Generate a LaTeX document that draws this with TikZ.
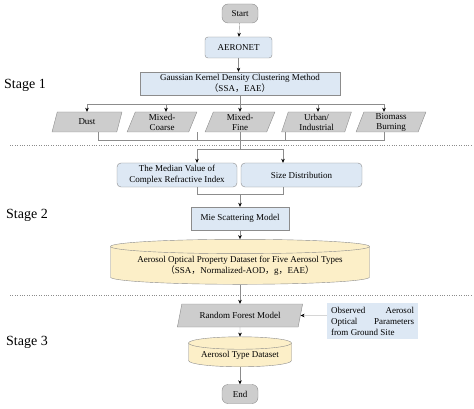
\documentclass[tikz,border=0pt]{standalone}
\usepackage{fontspec}
\setmainfont{Liberation Serif}
\newfontfamily\cjk{Noto Sans CJK SC}
\usetikzlibrary{shapes.geometric,arrows.meta}
\definecolor{boxblue}{HTML}{DDE8F4}
\definecolor{boxgray}{HTML}{CDCDCD}
\definecolor{boxyellow}{HTML}{FCEFC8}
\definecolor{linegray}{HTML}{8C8C8C}
\hyphenpenalty=10000
\exhyphenpenalty=10000

\begin{document}
\begin{tikzpicture}[x=1pt,y=-1pt,font=\fontsize{9}{11}\selectfont]

	\tikzstyle{terminal} = [draw=linegray,fill=boxgray,rounded corners=6pt,minimum width=36pt,minimum height=19pt,inner sep=1pt]
	\tikzstyle{process} = [draw=linegray,fill=boxblue,minimum height=23pt,inner sep=2pt,align=center]
	\tikzstyle{datatype} = [trapezium,trapezium left angle=76,trapezium right angle=104,trapezium stretches=true,draw=linegray,fill=boxgray,minimum width=70pt,minimum height=20pt,inner sep=0pt,align=center,font=\fontsize{9}{10}\selectfont]
	\tikzstyle{dataset} = [cylinder,shape border rotate=90,draw=linegray,fill=boxyellow,inner sep=0pt,align=center]
	\tikzstyle{flow} = [draw=linegray,-{Stealth[length=4pt,width=3.5pt,black]}]
	\tikzstyle{link} = [draw=linegray]
	\tikzstyle{stage} = [font=\fontsize{14}{16}\selectfont]
	\tikzstyle{divider} = [linegray,dotted]

	\useasboundingbox (0,0) rectangle (474,409);

	\node [stage] (stage1) at (25,85) {Stage 1};
	\node [stage] (stage2) at (27,215) {Stage 2};
	\node [stage] (stage3) at (27,342) {Stage 3};

	\draw[divider] (10,145) -- (472,145);
	\draw[divider] (10,295) -- (472,295);

	\node [terminal] (start) at (240,13.5) {Start};
	\node [process,rounded corners=3pt,minimum width=67pt,minimum height=21pt] (aeronet) at (238.5,47.5) {AERONET};
	\node [process,minimum width=200pt] (gauss) at (240,83.5) {Gaussian Kernel Density Clustering Method\\{\cjk （}SSA{\cjk ，}EAE{\cjk ）}};

	\draw[flow] (start) -- (aeronet);
	\draw[flow] (aeronet) -- (gauss.north -| aeronet);

	\coordinate (split) at (240,104);
	\coordinate (merge) at (240,140);
	\draw[link] (gauss) -- (split);

	\foreach \n/\x/\a/\b/\t in {dust/87/0/11/Dust, coarse/162/4/35/Mixed-\\Coarse, fine/240/0/0/Mixed-\\Fine, urban/316.5/1.5/-31.5/{Urban/\\Industrial}, biomass/391/-7/-7/Biomass\\Burning} {
		\node [datatype] (\n) at (\x,122) {\t};
		\draw[flow] (split) -| ([xshift=\a pt]\n.north);
		\draw[link] ([xshift=\b pt]\n.south) |- (merge);
	}

	\node [process,rounded corners=4pt,minimum width=120pt,minimum height=24pt] (median) at (177,175) {The Median Value of\\Complex Refractive Index};
	\node [process,rounded corners=4pt,minimum width=121pt,minimum height=24pt] (size) at (301.5,175) {Size Distribution};

	\coordinate (split2) at (240,149);
	\coordinate (merge2) at (240,194);
	\draw[link] (merge) -- (split2);
	\draw[flow] (split2) -| ([xshift=20pt]median.north);
	\draw[flow] (split2) -| ([xshift=-18.5pt]size.north);
	\draw[link] ([xshift=20pt]median.south) |- (merge2);
	\draw[link] ([xshift=-18.5pt]size.south) |- (merge2);

	\node [process,minimum width=98pt] (mie) at (240,218.5) {Mie Scattering Model};
	\draw[flow] (merge2) -- (mie);

	\node [dataset,aspect=0.07,minimum width=259pt,minimum height=45pt] (optics) at (240,265.5) {Aerosol Optical Property Dataset for Five Aerosol Types\\{\cjk （}SSA{\cjk ，}Normalized-AOD{\cjk ，}g{\cjk ，}EAE{\cjk ）}};
	\draw[flow] (mie) -- (optics);

	\node [datatype,trapezium left angle=64,trapezium right angle=116,minimum width=126pt,minimum height=23pt] (forest) at (240,315.5) {Random Forest Model};
	\node [fill=boxblue,text width=83pt,align=justify,inner sep=4pt] (observed) at (372.5,321) {Observed Aerosol Optical Parameters from Ground Site};
	\draw[flow] (optics) -- (forest);
	\draw[flow] (observed.west |- forest) -- (forest.east);

	\node [dataset,aspect=0.16,minimum width=103pt,minimum height=30pt] (typeset) at (240,355) {Aerosol Type Dataset};
	\node [terminal] (end) at (240,394) {End};
	\draw[flow] (forest) -- (typeset);
	\draw[flow] (typeset) -- (end);

\end{tikzpicture}
\end{document}
